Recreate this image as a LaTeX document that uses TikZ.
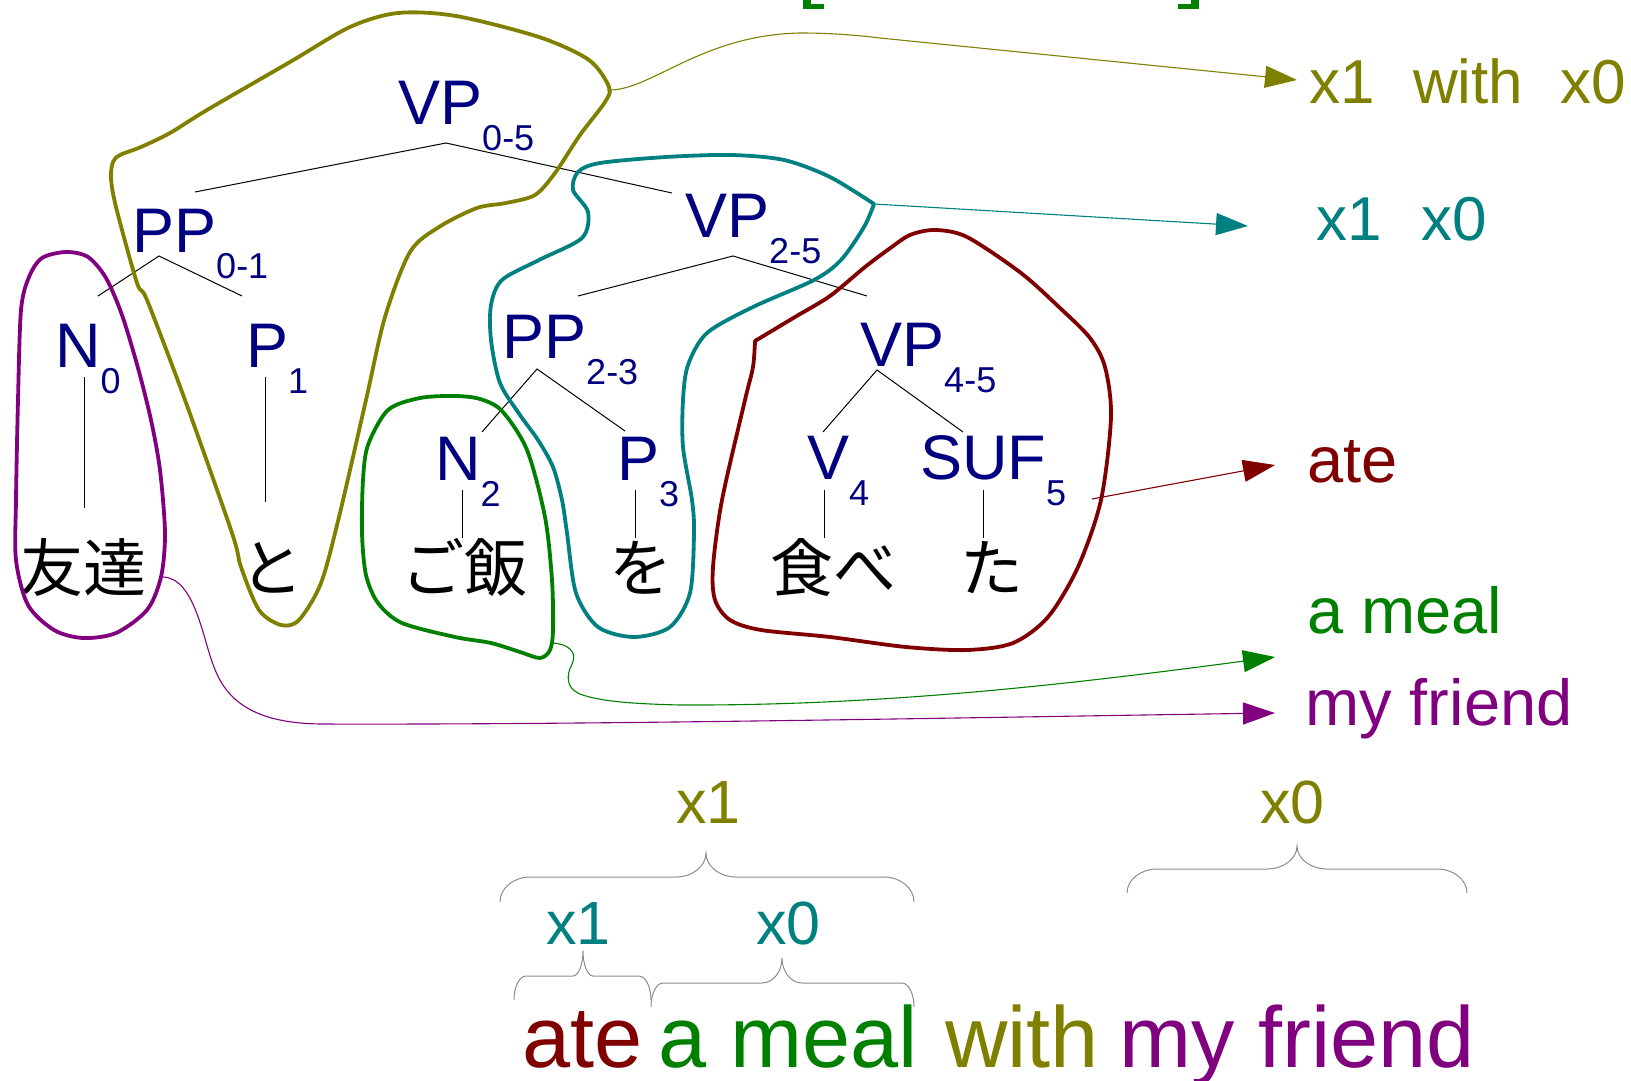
\documentclass[tikz,border=0pt]{standalone}
\usepackage{fontspec}
\setmainfont{Liberation Sans}
\newfontfamily\jpfont{Noto Sans CJK JP}
\usetikzlibrary{arrows.meta,calc}
\definecolor{cOlive}{HTML}{808000}
\definecolor{cTeal}{HTML}{008080}
\definecolor{cGreen}{HTML}{008000}
\definecolor{cPurple}{HTML}{800080}
\definecolor{cRed}{HTML}{800000}
\definecolor{cNavy}{HTML}{000080}
\definecolor{cBrace}{HTML}{8C8C8C}
\newcommand\tsub[1]{\raisebox{-26.5pt}{\fontsize{36}{36}\selectfont #1}}
% #1 xl, #2 xr, #3 xt, #4 yend, #5 yflat, #6 ytip, #7 end radius, #8 tip radius
\newcommand\mybrace[8]{%
  \draw[bracestyle] (#1,#4) .. controls (#1,{#5+0.45*(#4-#5)}) and ({#1+0.45*#7},#5) .. ({#1+#7},#5)
    -- ({#3-#8},#5) .. controls ({#3-0.45*#8},#5) and (#3,{#5-0.45*(#5-#6)}) .. (#3,#6)
    .. controls (#3,{#5-0.45*(#5-#6)}) and ({#3+0.45*#8},#5) .. ({#3+#8},#5)
    -- ({#2-#7},#5) .. controls ({#2-0.45*#7},#5) and (#2,{#5+0.45*(#4-#5)}) .. (#2,#4);}
\begin{document}
\begin{tikzpicture}[x=1pt,y=-1pt,
  tl/.style={anchor=base west, inner sep=0pt, text=cNavy, font=\fontsize{63}{63}\selectfont},
  jp/.style={anchor=base, inner sep=0pt, text=black, font=\jpfont\fontsize{63}{63}\selectfont},
  rl/.style={anchor=base west, inner sep=0pt, font=\fontsize{62}{62}\selectfont},
  rw/.style={anchor=base west, inner sep=0pt, font=\fontsize{65}{65}\selectfont},
  bl/.style={anchor=base west, inner sep=0pt, font=\fontsize{61}{61}\selectfont},
  sl/.style={anchor=base west, inner sep=0pt, font=\fontsize{86.5}{86.5}\selectfont},
  blob/.style={line width=3.8pt, line join=round, line cap=round},
  conn/.style={line width=1.1pt, -{Triangle[length=32pt,width=22pt]}},
  treeedge/.style={line width=1pt, black},
  bracestyle/.style={line width=1pt, cBrace}]
\useasboundingbox (0,0) rectangle (1631,1081);

% cut-off green brackets at the top
\fill[cGreen] (803,0) rectangle (811,9);
\fill[cGreen] (803,4) rectangle (824,9);
\fill[cGreen] (1191,0) rectangle (1199,9);
\fill[cGreen] (1178,4) rectangle (1199,9);

% ---------- tree labels ----------
\node[tl] (vp05) at (398,124) {VP\tsub{0-5}};
\node[tl] (pp01) at (132,252) {PP\tsub{0-1}};
\node[tl] (n0)   at (55,367)  {N\tsub{0}};
\node[tl] (p1)   at (246,367) {P\tsub{1}};
\node[tl] (vp25) at (685,237) {VP\tsub{2-5}};
\node[tl] (pp23) at (502,358) {PP\tsub{2-3}};
\node[tl] (n2)   at (435,480) {N\tsub{2}};
\node[tl] (p3)   at (617,480) {P\tsub{3}};
\node[tl] (vp45) at (860,366) {VP\tsub{4-5}};
\node[tl] (v4)   at (807,479) {V\tsub{4}};
\node[tl] (suf5) at (920,479) {SUF\tsub{5}};

% ---------- Japanese words ----------
\node[jp] (w0) at (83,591)  {友達};
\node[jp] (w1) at (272,591) {と};
\node[jp] (w2) at (464,591) {ご飯};
\node[jp] (w3) at (641,591) {を};
\node[jp] (w4) at (833,591) {食べ};
\node[jp] (w5) at (992,591) {た};

% ---------- tree edges ----------
\coordinate (vp05-a) at (446,143); \coordinate (vp05-l) at (195,192); \coordinate (vp05-r) at (672,193);
\coordinate (pp01-a) at (159,256); \coordinate (pp01-l) at (98,296);  \coordinate (pp01-r) at (242,296);
\coordinate (n0-a) at (84,377);    \coordinate (n0-b) at (84,508);
\coordinate (p1-a) at (265,377);   \coordinate (p1-b) at (265,502);
\coordinate (vp25-a) at (733,256); \coordinate (vp25-l) at (578,296); \coordinate (vp25-r) at (867,296);
\coordinate (pp23-a) at (537,369); \coordinate (pp23-l) at (482,432); \coordinate (pp23-r) at (625,431);
\coordinate (n2-a) at (462,490);   \coordinate (n2-b) at (462,538);
\coordinate (p3-a) at (635,490);   \coordinate (p3-b) at (635,538);
\coordinate (vp45-a) at (877,370); \coordinate (vp45-l) at (823,432); \coordinate (vp45-r) at (963,432);
\coordinate (v4-a) at (824,490);   \coordinate (v4-b) at (824,538);
\coordinate (suf5-a) at (983,490); \coordinate (suf5-b) at (983,538);
\draw[treeedge] (vp05-l) -- (vp05-a) -- (vp05-r);
\draw[treeedge] (pp01-l) -- (pp01-a) -- (pp01-r);
\draw[treeedge] (n0-a) -- (n0-b);
\draw[treeedge] (p1-a) -- (p1-b);
\draw[treeedge] (vp25-l) -- (vp25-a) -- (vp25-r);
\draw[treeedge] (pp23-l) -- (pp23-a) -- (pp23-r);
\draw[treeedge] (n2-a) -- (n2-b);
\draw[treeedge] (p3-a) -- (p3-b);
\draw[treeedge] (vp45-l) -- (vp45-a) -- (vp45-r);
\draw[treeedge] (v4-a) -- (v4-b);
\draw[treeedge] (suf5-a) -- (suf5-b);

% ---------- blobs ----------
\draw[blob,cPurple] plot[smooth cycle] coordinates {(66,252) (88,257) (106,278) (122,315) (138,368) (151,420) (160,470) (165,533) (161,577) (147,610) (116,633) (83,638) (54,630) (28,605) (16,560) (16,500) (18,400) (21,310) (29,277) (42,258)};
\draw[blob,cOlive] plot[smooth cycle] coordinates {(120,155) (141,147) (170,133) (207,110) (290,62) (350,27) (398,13) (456,16) (539,37) (589,60) (609,87) (605,102) (580,135) (555,173) (535,195) (506,203) (477,208) (439,227) (410,252) (385,317) (366,400) (339,517) (321,583) (299,620) (281,625) (259,610) (241,567) (232,533) (185,400) (147,300) (137,283) (116,207) (111,178) (113,162)};
\draw[blob,cGreen] plot[smooth cycle] coordinates {(455,396) (480,399) (502,411) (527,450) (545,517) (552,580) (553,630) (550,650) (540,658) (520,652) (491,643) (455,637) (402,623) (378,603) (366,575) (362,533) (363,480) (368,445) (388,410) (420,398)};
\draw[blob,cTeal] plot[smooth] coordinates {(874,204) (830,177) (784,160) (731,155) (666,157) (600,163) (578,172) (573,190) (588,212) (582,238) (539,260) (502,280) (491,305) (491,340) (500,383) (520,415) (538,440) (553,467) (562,500) (567,533) (576,593) (598,627) (634,637) (670,627) (690,593) (694,533) (692,500) (683,447) (683,400) (688,365) (707,333) (753,307) (814,280) (841,260) (864,227) (874,204)} -- cycle;
\draw[blob,cRed] plot[smooth] coordinates {(755,341) (795,317) (830,296) (865,267) (889,249) (910,235) (935,230) (967,237) (1021,273) (1060,308) (1090,338) (1105,367) (1111,417) (1101,500) (1078,567) (1048,617) (1013,643) (967,650) (906,647) (830,637) (761,630) (730,620) (715,600) (713,567) (722,500) (745,400) (753,367) (755,341)} -- cycle;

% ---------- right labels ----------
\node[rl,text=cOlive] (r1a) at (1309,103) {x1};
\node[rl,text=cOlive] (r1b) at (1413,103) {with};
\node[rl,text=cOlive] (r1c) at (1560,103) {x0};
\node[rl,text=cTeal] (r2a) at (1316,240) {x1};
\node[rl,text=cTeal] (r2b) at (1421,240) {x0};
\node[rw,text=cRed] (r3) at (1307,482) {ate};
\node[rw,text=cGreen] (r4) at (1307,633) {a meal};
\node[rw,text=cPurple] (r5) at (1305,725) {my friend};

% ---------- connectors ----------
\coordinate (olive-out) at (607,90);   \coordinate (olive-tip) at (1297,80);
\coordinate (teal-out) at (874,204);   \coordinate (teal-tip) at (1248,226);
\coordinate (red-out) at (1092,499);   \coordinate (red-tip) at (1275,465);
\coordinate (green-out) at (553,643);  \coordinate (green-tip) at (1275,657);
\coordinate (purple-out) at (163,577); \coordinate (purple-tip) at (1275,713);
\draw[conn,cOlive] (olive-out) .. controls (650,92) and (700,35) .. (800,33) .. controls (830,33) and (855,35) .. (880,38) -- (olive-tip);
\draw[conn,cTeal] (teal-out) -- (teal-tip);
\draw[conn,cRed] (red-out) -- (red-tip);
\draw[conn,cGreen] (green-out) .. controls (568,644) and (578,652) .. (572,664) .. controls (566,676) and (566,688) .. (580,694) .. controls (600,702) and (640,704) .. (680,705) .. controls (900,706) and (1100,680) .. (green-tip);
\draw[conn,cPurple] (purple-out) .. controls (195,578) and (203,640) .. (214,667) .. controls (228,705) and (260,723) .. (320,724) .. controls (600,725) and (1000,717) .. (purple-tip);

% ---------- bottom ----------
\node[bl,text=cOlive] (b1) at (676,823) {x1};
\node[bl,text=cOlive] (b0) at (1260,823) {x0};
\node[bl,text=cTeal] (c1) at (546,944) {x1};
\node[bl,text=cTeal] (c0) at (756,944) {x0};
\mybrace{500}{914}{706}{902}{877}{853}{30}{30}
\mybrace{1127}{1467}{1297}{893}{869}{846}{30}{30}
\mybrace{514}{651}{583}{1000}{976}{951}{12}{10}
\mybrace{651}{914}{782}{1007}{983}{958}{12}{20}
\node[sl,text=cRed] (s1) at (522,1067) {ate};
\node[sl,text=cGreen] (s2) at (658,1067) {a meal};
\node[sl,text=cOlive] (s3) at (945,1067) {with};
\node[sl,text=cPurple] (s4) at (1119,1067) {my friend};
\end{tikzpicture}
\end{document}
